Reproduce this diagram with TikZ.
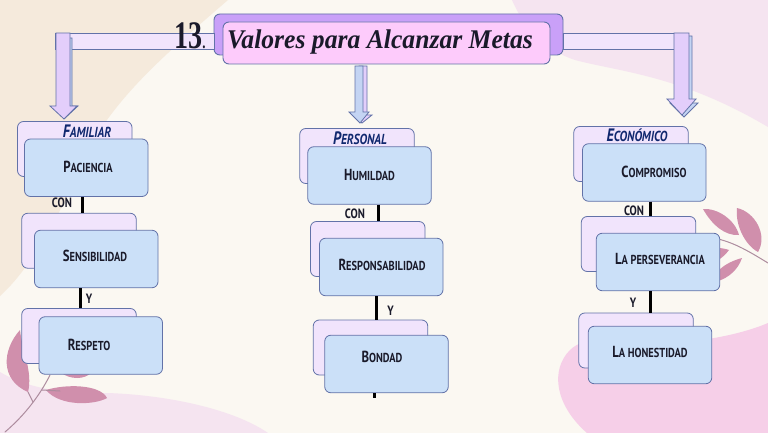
\documentclass[tikz,border=0pt]{standalone}
\usepackage{fontspec}
\newfontfamily\handfont[FakeStretch=0.8]{PT Sans}
\newfontfamily\ttlfont[FakeStretch=0.95]{Liberation Serif}
\newfontfamily\numfont[FakeStretch=0.72]{Liberation Serif}
\newcommand{\smc}[2]{{\fontsize{16}{16}\selectfont #1}{\fontsize{13}{13}\selectfont #2}}
\newcommand{\hdc}[2]{{\fontsize{18}{18}\selectfont #1}{\fontsize{14.5}{14.5}\selectfont #2}}
\definecolor{bgbase}{HTML}{FBF8F2}
\definecolor{bgbeige}{HTML}{F5EADC}
\definecolor{bgpinka}{HTML}{F5E4F0}
\definecolor{bgpinkb}{HTML}{F6CFE8}
\definecolor{leafc}{HTML}{D08FAC}
\definecolor{stemc}{HTML}{AD8C9E}
\definecolor{edgec}{HTML}{6272A8}
\definecolor{backc}{HTML}{F1E4FC}
\definecolor{frontc}{HTML}{CBE0F8}
\definecolor{titleb}{HTML}{C9A0F8}
\definecolor{titlef}{HTML}{FDCBFB}
\definecolor{lav}{HTML}{E3CEFB}
\definecolor{bluea}{HTML}{C4D4F3}
\definecolor{navy}{HTML}{10286E}
\definecolor{ink}{HTML}{1A1A2A}
\tikzset{
 x=1pt,y=-1pt,
 backbox/.style={draw=edgec,line width=0.8pt,fill=backc,rounded corners=6pt,minimum width=114.5pt,minimum height=55pt,inner sep=0pt},
 frontbox/.style={draw=edgec,line width=0.8pt,fill=frontc,rounded corners=6pt,minimum width=123.5pt,minimum height=57.5pt,inner sep=0pt},
 titleback/.style={draw=edgec,line width=0.9pt,fill=titleb,rounded corners=6pt,minimum width=349pt,minimum height=41pt,inner sep=0pt},
 titlefront/.style={draw=edgec,line width=0.9pt,fill=titlef,rounded corners=6pt,minimum width=327pt,minimum height=42pt,inner sep=0pt},
 band/.style={draw=edgec,line width=0.9pt,fill=backc},
 arrowa/.style={draw=edgec,line width=0.8pt,fill=lav,line join=miter},
 arrowb/.style={draw=edgec,line width=0.8pt,fill=bluea,line join=miter},
 link/.style={draw=black,line width=3pt},
 itemtext/.style={font=\handfont\bfseries,text=ink,inner sep=0pt},
 headtext/.style={font=\handfont\bfseries\itshape,text=navy,inner sep=0pt},
 wordtext/.style={font=\handfont\bfseries\fontsize{13.5}{13.5}\selectfont,text=ink,inner sep=0pt},
 leaf/.style={fill=leafc,draw=none},
 stem/.style={draw=stemc,line width=1pt,line cap=round}
}
\begin{document}
\begin{tikzpicture}
\useasboundingbox (0,0) rectangle (768,433);
% background
\fill[bgbase] (0,0) rectangle (768,433);
\fill[bgbeige] (0,0) -- (228,0) .. controls (170,50) and (130,85) .. (100,130) .. controls (70,190) and (40,260) .. (0,296) -- cycle;
\fill[bgpinka] (512,0) .. controls (525,30) and (545,50) .. (575,60) .. controls (620,72) and (680,75) .. (768,127) -- (768,0) -- cycle;
\fill[bgpinka] (0,372) .. controls (30,390) and (70,394) .. (107,393) .. controls (170,395) and (235,410) .. (268,433) -- (0,433) -- cycle;
\fill[bgpinkb] (768,323) .. controls (740,335) and (690,345) .. (650,342) .. controls (620,338) and (585,335) .. (570,350) .. controls (550,370) and (555,405) .. (587,433) -- (768,433) -- cycle;
% leaves lower left
\path[leaf] (20,330) .. controls (2,350) and (0,380) .. (28,392) .. controls (33,372) and (22,350) .. (20,330) -- cycle;
\path[leaf] (46,390) .. controls (65,384) and (100,384) .. (107,398) .. controls (95,405) and (60,407) .. (46,390) -- cycle;
\path[leaf] (60,372) .. controls (70,380) and (85,380) .. (92,372) -- cycle;
\draw[stem] (5,432) .. controls (25,415) and (40,395) .. (50,375);
\draw[stem] (28,392) -- (33,402);
\draw[stem] (42,390) -- (60,391);
% leaves right
\path[leaf] (703,209) .. controls (718,208) and (735,220) .. (739,235) .. controls (725,236) and (712,225) .. (703,209) -- cycle;
\path[leaf] (737,208) .. controls (755,212) and (768,235) .. (758,252) .. controls (745,245) and (735,225) .. (737,208) -- cycle;
\path[leaf] (718,248) .. controls (722,248) and (726,249) .. (729,250) .. controls (726,254) and (722,258) .. (718,260) -- cycle;
\path[leaf] (718,271) .. controls (726,263) and (735,260) .. (742,258) .. controls (738,270) and (728,278) .. (718,281) -- cycle;
\draw[stem] (718,239) .. controls (735,243) and (750,252) .. (768,263);
% title
\node[titleback] (tb) at (388.5,34.5) {};
% bands and arrows
\draw[band] (55,33) rectangle (214,49);
\draw[band] (563,33) rectangle (680,49);
\draw[arrowb] (59,38) -- (72,38) -- (72,106) -- (78,106) -- (65,118) -- (58,112) -- cycle;
\draw[arrowa] (56,33) -- (70,33) -- (70,106) -- (77,106) -- (64,119) -- (50,106) -- (56,106) -- cycle;
\draw[arrowb,fill=bluea] (677,36) -- (692,36) -- (692,103) -- (698,103) -- (684,117) -- (670,103) -- (677,103) -- cycle;
\draw[arrowa] (674,33) -- (689,33) -- (689,99) -- (696,99) -- (682,115) -- (667,99) -- (674,99) -- cycle;
\draw[arrowa] (359,66) -- (367,66) -- (367,115) -- (372,115) -- (362,123) -- (353,115) -- (359,115) -- cycle;
\draw[arrowb] (355,66) -- (363,66) -- (363,112) -- (369,112) -- (360,123) -- (349,112) -- (355,112) -- cycle;
\node[titlefront] (tf) at (386.5,43) {};
\node[font=\ttlfont\bfseries\itshape\fontsize{27}{27}\selectfont,text=ink,inner sep=0pt] (title) at (380,42) {Valores para Alcanzar Metas};
\node[font=\numfont\bfseries\fontsize{39}{39}\selectfont,text=ink,inner sep=0pt] (num) at (190,36) {13\fontsize{18}{18}\selectfont.};
% column 1
\node[backbox] (fb) at (74.75,149) {};
\node[frontbox] (pac) at (86.25,167.75) {};
\node[backbox] (sb) at (79,240.75) {};
\node[frontbox] (sen) at (96.25,259) {};
\node[backbox] (rb) at (79,336) {};
\node[frontbox] (res) at (100.75,345.5) {};
% column 2
\node[backbox] (pb) at (357,156) {};
\node[frontbox] (hum) at (369.5,175.5) {};
\node[backbox] (rsb) at (367.75,249) {};
\node[frontbox] (rsp) at (381.25,267) {};
\node[backbox] (bb) at (370.5,347.5) {};
\node[frontbox] (bon) at (386.5,364) {};
% column 3
\node[backbox] (eb) at (631,154) {};
\node[frontbox] (com) at (644.25,172.5) {};
\node[backbox] (pvb) at (638.5,244) {};
\node[frontbox] (per) at (658,262) {};
\node[backbox] (hb) at (636,340.5) {};
\node[frontbox] (hon) at (650,355) {};
% connectors
\coordinate (xa) at (82.5,0);
\coordinate (xb) at (80,0);
\coordinate (xc) at (378.5,0);
\coordinate (xd) at (376.5,0);
\coordinate (xe) at (650.5,0);
\coordinate (stub) at (374,398);
\draw[link] (pac.south -| xa) -- (sb.north -| xa);
\draw[link] (sen.south -| xb) -- (rb.north -| xb);
\draw[link] (hum.south -| xc) -- (rsb.north -| xc);
\draw[link] (rsp.south -| xd) -- (bb.north -| xd);
\draw[link] (bon.south -| stub) -- (stub);
\draw[link] (com.south -| xe) -- (pvb.north -| xe);
\draw[link] (per.south -| xe) -- (hb.north -| xe);
% texts
\node[headtext] at (87,131.5) {\hdc{F}{AMILIAR}};
\node[headtext] at (360,138.5) {\hdc{P}{ERSONAL}};
\node[headtext] at (637,135) {\hdc{E}{CONÓMICO}};
\node[itemtext] at (88,166.5) {\smc{P}{ACIENCIA}};
\node[itemtext] at (95,256) {\smc{S}{ENSIBILIDAD}};
\node[itemtext] at (89,345) {\smc{R}{ESPETO}};
\node[itemtext] at (369.5,175) {\smc{H}{UMILDAD}};
\node[itemtext] at (382,265) {\smc{R}{ESPONSABILIDAD}};
\node[itemtext] at (382,357) {\smc{B}{ONDAD}};
\node[itemtext] at (654,172) {\smc{C}{OMPROMISO}};
\node[itemtext] at (660,259) {\smc{L}{A PERSEVERANCIA}};
\node[itemtext] at (650,352) {\smc{L}{A HONESTIDAD}};
\node[wordtext] at (62,202.5) {CON};
\node[wordtext] at (355,213.5) {CON};
\node[wordtext] at (634,210.5) {CON};
\node[wordtext] at (89,298.5) {Y};
\node[wordtext] at (390.5,310.5) {Y};
\node[wordtext] at (633,303) {Y};
\end{tikzpicture}
\end{document}
